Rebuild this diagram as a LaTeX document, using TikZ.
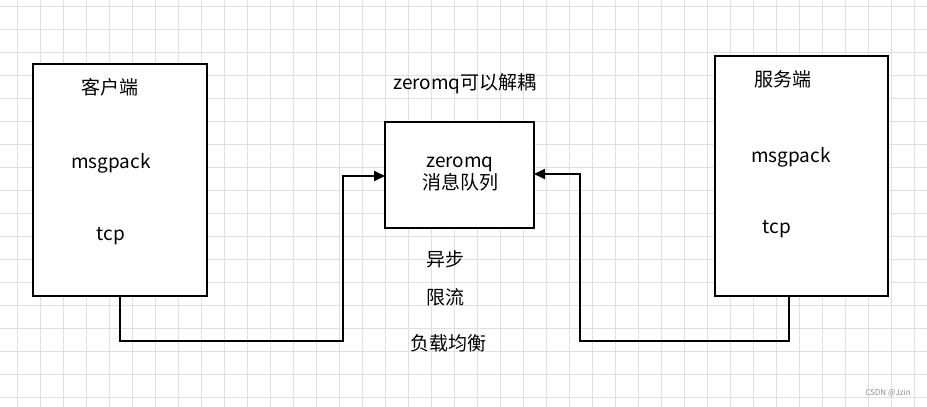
\documentclass[tikz,border=0pt]{standalone}
\usepackage{fontspec}
\setmainfont{Noto Sans CJK SC}
\usetikzlibrary{arrows.meta}
\begin{document}
\begin{tikzpicture}[x=1pt,y=-1pt,
  box/.style={draw,line width=2pt,fill=white},
  lbl/.style={font=\fontsize{19}{22}\selectfont},
  conn/.style={line width=1.8pt,-{Triangle[length=11pt,width=10pt]}}]
\useasboundingbox (0,0) rectangle (927,407);
\fill[white] (0,0) rectangle (927,407);
\foreach \x in {17,40,...,927} \draw[black!12,line width=0.8pt] (\x,0) -- (\x,407);
\foreach \y in {6,29,...,407} \draw[black!12,line width=0.8pt] (0,\y) -- (927,\y);
\draw[box] (33,64) rectangle (207,296);
\draw[box] (715,56) rectangle (888,296);
\draw[box] (385,122) rectangle (534,228);
\coordinate (cb) at (120,296);
\coordinate (cl) at (385,176);
\coordinate (sb) at (789,296);
\coordinate (sr) at (534,174);
\node[lbl] (c1) at (110,87) {客户端};
\node[lbl] (c2) at (111,163) {msgpack};
\node[lbl] (c3) at (111,236) {tcp};
\node[lbl] (s1) at (783,79) {服务端};
\node[lbl] (s2) at (791,157) {msgpack};
\node[lbl] (s3) at (777,229) {tcp};
\node[lbl,align=center,inner sep=0] (m) at (460,174) {zeromq\\消息队列};
\node[lbl] (t) at (465,84) {zeromq可以解耦};
\node[lbl] (a1) at (445,259) {异步};
\node[lbl] (a2) at (445,297) {限流};
\node[lbl] (a3) at (448,343) {负载均衡};
\node[font=\fontsize{8}{9}\selectfont,text=black!45] (w) at (888,393) {CSDN @Jzin};
\draw[conn] (cb) -- (120,341) -- (343,341) -- (343,176) -- (cl);
\draw[conn] (sb) -- (789,341) -- (580,341) -- (580,174) -- (sr);
\end{tikzpicture}
\end{document}
